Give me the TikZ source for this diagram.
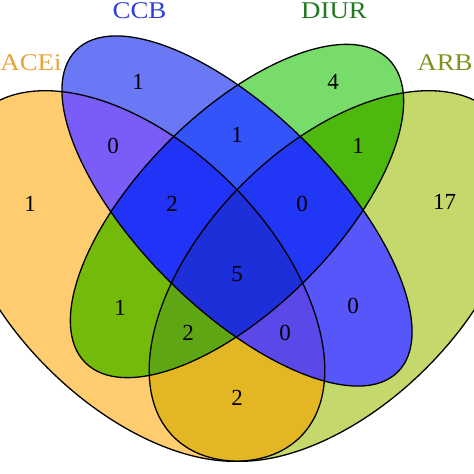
\documentclass[tikz,border=0pt]{standalone}
\usepackage{fontspec}
\setmainfont{Liberation Serif}
\definecolor{cA}{HTML}{FFCC70}
\definecolor{cB}{HTML}{6A78F6}
\definecolor{cC}{HTML}{78DC6A}
\definecolor{cD}{HTML}{C4D86C}
\definecolor{cAB}{HTML}{7A5CF8}
\definecolor{cBC}{HTML}{3353FB}
\definecolor{cCD}{HTML}{4DB80D}
\definecolor{cAC}{HTML}{73BA0A}
\definecolor{cBD}{HTML}{5656FA}
\definecolor{cAD}{HTML}{E3B624}
\definecolor{cABC}{HTML}{2233F8}
\definecolor{cBCD}{HTML}{2236F6}
\definecolor{cACD}{HTML}{5FA615}
\definecolor{cABD}{HTML}{5B48E8}
\definecolor{cABCD}{HTML}{1D2FD9}
\definecolor{tA}{HTML}{E8A33A}
\definecolor{tB}{HTML}{2F3FD8}
\definecolor{tC}{HTML}{1F7A1F}
\definecolor{tD}{HTML}{7F931E}
\newcommand\vpA{(139.5,198) ellipse [x radius=227.5, y radius=130]}
\newcommand\vpB{(237,263) ellipse [x radius=227.5, y radius=97.5]}
\newcommand\vpC{(237,263) ellipse [x radius=214.5, y radius=97.5]}
\newcommand\vpD{(334.5,198) ellipse [x radius=227.5, y radius=130]}
\tikzset{
  rA/.style={rotate around={-45:(139.5,198)}},
  rB/.style={rotate around={-45:(237,263)}},
  rC/.style={rotate around={45:(237,263)}},
  rD/.style={rotate around={45:(334.5,198)}},
  num/.style={font=\fontsize{23}{23}\selectfont, text=black, inner sep=0pt},
  setlabel/.style={font=\fontsize{24}{24}\selectfont, inner sep=0pt, xscale=1.12},
  outline/.style={draw=black, line width=1.3pt}
}
\begin{document}
\begin{tikzpicture}[x=1pt,y=1pt]
\useasboundingbox (0,0) rectangle (474,474);
\begin{scope}
\clip (0,0) rectangle (474,474);
% singles
\fill[cA,rA] \vpA;
\fill[cD,rD] \vpD;
\fill[cB,rB] \vpB;
\fill[cC,rC] \vpC;
% pairs
\begin{scope}\clip[rA] \vpA; \fill[cAB,rB] \vpB; \end{scope}
\begin{scope}\clip[rA] \vpA; \fill[cAC,rC] \vpC; \end{scope}
\begin{scope}\clip[rA] \vpA; \fill[cAD,rD] \vpD; \end{scope}
\begin{scope}\clip[rB] \vpB; \fill[cBC,rC] \vpC; \end{scope}
\begin{scope}\clip[rB] \vpB; \fill[cBD,rD] \vpD; \end{scope}
\begin{scope}\clip[rC] \vpC; \fill[cCD,rD] \vpD; \end{scope}
% triples
\begin{scope}\clip[rA] \vpA; \clip[rB] \vpB; \fill[cABC,rC] \vpC; \end{scope}
\begin{scope}\clip[rA] \vpA; \clip[rB] \vpB; \fill[cABD,rD] \vpD; \end{scope}
\begin{scope}\clip[rA] \vpA; \clip[rC] \vpC; \fill[cACD,rD] \vpD; \end{scope}
\begin{scope}\clip[rB] \vpB; \clip[rC] \vpC; \fill[cBCD,rD] \vpD; \end{scope}
% quad
\begin{scope}\clip[rA] \vpA; \clip[rB] \vpB; \clip[rC] \vpC; \fill[cABCD,rD] \vpD; \end{scope}
% outlines
\draw[outline,rA] \vpA;
\draw[outline,rD] \vpD;
\draw[outline,rB] \vpB;
\draw[outline,rC] \vpC;
\end{scope}
% set labels
\node[setlabel,text=tA] (lA) at (31,411.5) {ACEi};
\node[setlabel,text=tB] (lB) at (139.5,463) {CCB};
\node[setlabel,text=tC] (lC) at (334,463) {DIUR};
\node[setlabel,text=tD] (lD) at (445,411.5) {ARB};
% counts
\node[num] (nA) at (30,270) {1};
\node[num] (nB) at (138,392) {1};
\node[num] (nC) at (333,392) {4};
\node[num] (nD) at (444.5,272) {17};
\node[num] (nAB) at (113,328) {0};
\node[num] (nBC) at (237,339) {1};
\node[num] (nCD) at (358,328) {1};
\node[num] (nABC) at (172,270) {2};
\node[num] (nBCD) at (302,270) {0};
\node[num] (nABCD) at (237,200) {5};
\node[num] (nAC) at (120,166) {1};
\node[num] (nBD) at (353,168) {0};
\node[num] (nACD) at (188,141) {2};
\node[num] (nABD) at (285,141) {0};
\node[num] (nAD) at (237,76) {2};
\end{tikzpicture}
\end{document}
